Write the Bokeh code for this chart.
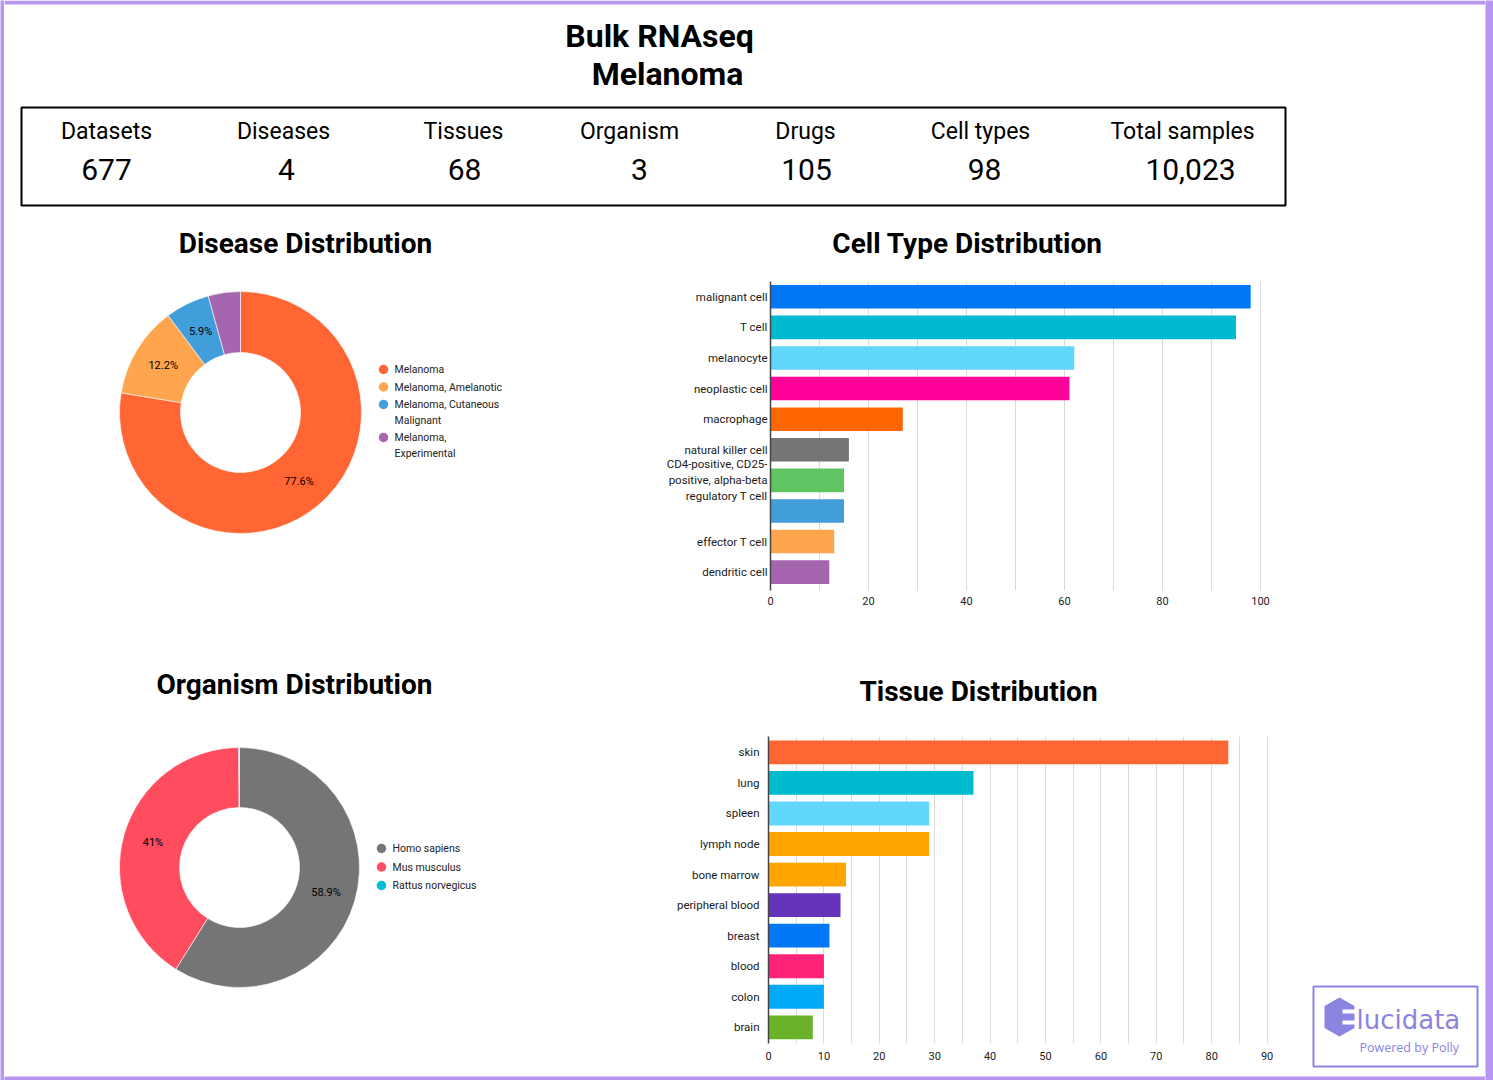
import math
import re
from bokeh.plotting import figure
from bokeh.layouts import column, row
from bokeh.models import Range1d, FixedTicker, GlobalInlineStyleSheet
from bokeh.core.properties import value
from bokeh.embed import file_html
from bokeh.resources import INLINE

# ---------------- data ----------------
title_lines = ["Bulk  RNAseq", "Melanoma"]
stat_labels = ["Datasets", "Diseases", "Tissues", "Organism", "Drugs", "Cell types", "Total samples"]
stat_values = ["677", "4", "68", "3", "105", "98", "10,023"]

disease_title = "Disease Distribution"
disease_names = ["Melanoma", "Melanoma, Amelanotic", "Melanoma, Cutaneous Malignant", "Melanoma, Experimental"]
disease_pct = [77.6, 12.2, 5.9, 4.3]

organism_title = "Organism Distribution"
organism_names = ["Homo sapiens", "Mus musculus", "Rattus norvegicus"]
organism_pct = [58.9, 41.0, 0.1]

cell_title = "Cell Type Distribution"
cell_types = ["malignant cell", "T cell", "melanocyte", "neoplastic cell", "macrophage",
              "natural killer cell", "CD4-positive, CD25-positive, alpha-beta regulatory T cell", "",
              "effector T cell", "dendritic cell"]
cell_counts = [98, 95, 62, 61, 27, 16, 15, 15, 13, 12]
cell_ticks = [0, 20, 40, 60, 80, 100]

tissue_title = "Tissue Distribution"
tissues = ["skin", "lung", "spleen", "lymph node", "bone marrow", "peripheral blood",
           "breast", "blood", "colon", "brain"]
tissue_counts = [83, 37, 29, 29, 14, 13, 11, 10, 10, 8]
tissue_ticks = [0, 10, 20, 30, 40, 50, 60, 70, 80, 90]

logo_texts = ["lucidata", "Powered by Polly"]

# ---------------- styles ----------------
PURPLE = "#B995F2"
LOGO = "#8B84E0"
FONT = "Roboto"
disease_colors = ["#FF6633", "#FFA54D", "#429EDB", "#A665AF"]
organism_colors = ["#757575", "#FF4C5F", "#00BCD4"]
cell_colors = ["#0077F7", "#00BAD1", "#61D7FC", "#FF0099", "#FF6600",
               "#757575", "#5FC461", "#429EDB", "#FFA54D", "#A665AF"]
tissue_colors = ["#FF6633", "#00BACF", "#61D7FC", "#FFA500", "#FFA500",
                 "#6633BB", "#0077F7", "#FF2277", "#00AAF7", "#6BB22B"]


def wrap(name, width=20):
    pieces = re.findall(r"[^\s-]+-?\s*|-\s*", name)
    lines, line = [], ""
    for piece in pieces:
        if line and len((line + piece).rstrip()) > width:
            lines.append(line.rstrip())
            line = piece
        else:
            line += piece
    if line.strip():
        lines.append(line.rstrip())
    return lines


def canvas(x0, x1, y0, y1):
    p = figure(width=x1 - x0, height=y1 - y0, x_range=Range1d(x0, x1), y_range=Range1d(-y1, -y0),
               output_backend="svg", toolbar_location=None, min_border=0,
               x_axis_type=None, y_axis_type=None, frame_align=False)
    p.outline_line_color = None
    p.background_fill_color = "white"
    p.border_fill_color = "white"
    p.grid.visible = False
    return p


def strip(w, h):
    p = figure(width=w, height=h, x_range=Range1d(0, 1), y_range=Range1d(0, 1),
               output_backend="svg", toolbar_location=None, min_border=0,
               x_axis_type=None, y_axis_type=None, frame_align=False)
    p.outline_line_color = None
    p.background_fill_color = PURPLE
    p.border_fill_color = PURPLE
    return p


def txt(p, xs, ys, texts, size, bold=False, align="center", baseline="middle",
        color="#000000", font=FONT):
    p.text(x=list(xs), y=[-y for y in ys], text=list(texts), text_font=value(font),
           text_font_size=size, text_font_style="bold" if bold else "normal",
           text_align=align, text_baseline=baseline, text_color=color)


def donut(p, cx, cy, pct, colors, r_in=60, r_out=121):
    total = sum(pct)
    starts, ends, lx, ly, lt = [], [], [], [], []
    cum = 0.0
    for v in pct:
        a0 = math.pi / 2 - 2 * math.pi * (cum + v) / total
        a1 = math.pi / 2 - 2 * math.pi * cum / total
        starts.append(a0)
        ends.append(a1)
        if v >= 5:
            am = (a0 + a1) / 2
            rm = (r_in + r_out) / 2
            lx.append(cx + rm * math.cos(am))
            ly.append(cy - rm * math.sin(am))
            lt.append(f"{v:g}%")
        cum += v
    p.annular_wedge(x=cx, y=-cy, inner_radius=r_in, outer_radius=r_out,
                    start_angle=starts, end_angle=ends, fill_color=colors,
                    line_color="white", line_width=0.6)
    txt(p, lx, ly, lt, "11px")


def legend(p, x, y0, names, colors, line_step=15.5, row_gap=17.5):
    dots_x, dots_y, tx, ty, tt = [], [], [], [], []
    y = y0
    for name, c in zip(names, colors):
        lines = wrap(name, 20)
        dots_x.append(x)
        dots_y.append(-y)
        for k, ln in enumerate(lines):
            tx.append(x + 11)
            ty.append(y + k * line_step)
            tt.append(ln)
        y = y + (len(lines) - 1) * line_step + row_gap
    p.scatter(x=dots_x, y=dots_y, size=9.5, fill_color=colors, line_color=None)
    txt(p, tx, ty, tt, "10.5px", align="left", color="#222222")


def style_bar(p, ticks, grid_ticks, labels, ystand, xstand):
    p.outline_line_color = None
    p.background_fill_color = "white"
    p.border_fill_color = "white"
    p.xaxis.ticker = FixedTicker(ticks=ticks)
    p.xgrid.ticker = FixedTicker(ticks=grid_ticks)
    p.xgrid.grid_line_color = "#DADADA"
    p.xgrid.grid_line_width = 1
    p.ygrid.grid_line_color = None
    p.xaxis.axis_line_color = None
    p.xaxis.major_tick_line_color = None
    p.xaxis.minor_tick_line_color = None
    p.xaxis.major_tick_out = 0
    p.xaxis.major_label_standoff = xstand
    p.xaxis.major_label_text_font = FONT
    p.xaxis.major_label_text_font_size = "11px"
    p.xaxis.major_label_text_color = "#222222"
    p.yaxis.ticker = FixedTicker(ticks=list(range(len(labels))))
    p.yaxis.major_label_overrides = {i: "\n".join(wrap(n, 20)) for i, n in enumerate(labels)}
    p.yaxis.axis_line_color = "#444444"
    p.yaxis.axis_line_width = 1.5
    p.yaxis.major_tick_line_color = None
    p.yaxis.minor_tick_line_color = None
    p.yaxis.major_tick_out = 0
    p.yaxis.major_label_standoff = ystand
    p.yaxis.major_label_text_font = FONT
    p.yaxis.major_label_text_font_size = "11.5px"
    p.yaxis.major_label_text_color = "#1A1A1A"
    p.yaxis.major_label_text_line_height = 1.15


# ---------------- header ----------------
head = canvas(4, 1485, 0, 270)
head.quad(left=[4], right=[1485], top=[0], bottom=[-4], fill_color=PURPLE, line_color=None)
txt(head, [663, 667], [35, 73.5], title_lines, "32px", bold=True)
head.quad(left=[21], right=[1285], top=[-107], bottom=[-205], fill_color=None,
          line_color="black", line_width=2)
label_x = [106, 283, 463, 629, 805, 980, 1182]
value_x = [106, 286, 464, 639, 806, 984, 1190]
txt(head, label_x, [130.5] * len(stat_labels), stat_labels, "23px")
txt(head, value_x, [169] * len(stat_values), stat_values, "30px")
txt(head, [305, 967], [243, 243], [disease_title, cell_title], "28px", bold=True)

# ---------------- disease donut ----------------
pdis = canvas(4, 640, 270, 640)
donut(pdis, 240, 412, disease_pct, disease_colors)
legend(pdis, 383, 369, disease_names, disease_colors)

# ---------------- cell type bars ----------------
pc = figure(width=845, height=370, x_range=Range1d(0, 102.86), y_range=Range1d(9.6, -0.5),
            output_backend="svg", toolbar_location=None, frame_align=False,
            min_border_left=130, min_border_right=211, min_border_top=11, min_border_bottom=50)
pc.hbar(y=list(range(len(cell_types))), left=0, right=cell_counts, height=0.77,
        fill_color=cell_colors, line_color=None)
style_bar(pc, cell_ticks, list(range(0, 101, 10)), cell_types, 3, 6)

# ---------------- mid titles ----------------
mid = canvas(4, 1485, 640, 725)
txt(mid, [294], [684.3], [organism_title], "28px", bold=True)
txt(mid, [978], [691.3], [tissue_title], "28px", bold=True)

# ---------------- organism donut ----------------
porg = canvas(4, 640, 725, 1072)
donut(porg, 239, 867, organism_pct, organism_colors, r_in=60, r_out=120)
legend(porg, 381, 848, organism_names, organism_colors, row_gap=18.5)

# ---------------- tissue bars ----------------
pt = figure(width=650, height=347, x_range=Range1d(0, 91.7), y_range=Range1d(9.53, -0.52),
            output_backend="svg", toolbar_location=None, frame_align=False,
            min_border_left=128, min_border_right=14, min_border_top=11, min_border_bottom=29)
pt.hbar(y=list(range(len(tissues))), left=0, right=tissue_counts, height=0.78,
        fill_color=tissue_colors, line_color=None)
style_bar(pt, tissue_ticks, list(range(0, 91, 5)), tissues, 9, 8)

# ---------------- logo ----------------
plogo = canvas(1290, 1485, 725, 1072)
plogo.quad(left=[1313], right=[1477], top=[-986], bottom=[-1066], fill_color=None,
           line_color=LOGO, line_width=2)
hx = [1339, 1353, 1353, 1339, 1325, 1325]
hy = [998, 1006, 1027, 1035, 1027, 1006]
plogo.patch(x=hx, y=[-v for v in hy], fill_color=LOGO, line_color=LOGO, line_width=2, line_join="round")
plogo.quad(left=[1342, 1342], right=[1355, 1355], top=[-1009, -1020], bottom=[-1013, -1024],
           fill_color="white", line_color=None)
txt(plogo, [1356], [1019], [logo_texts[0]], "26px", align="left", color=LOGO, font="DejaVu Sans")
txt(plogo, [1359], [1047], [logo_texts[1]], "12.5px", align="left", color=LOGO, font="Open Sans")

# ---------------- assemble ----------------
content = column(head, row(pdis, pc), mid, row(porg, pt, plogo), strip(1481, 8))
root = row(strip(4, 1080), content, strip(8, 1080))
root.stylesheets = [GlobalInlineStyleSheet(css="html, body { margin: 0; padding: 0; overflow: hidden; }")]

open("out.html", "w").write(file_html(root, INLINE))
